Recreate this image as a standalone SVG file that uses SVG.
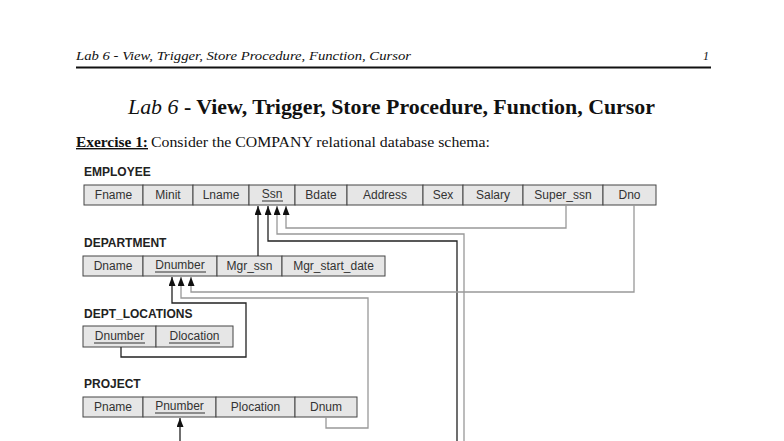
<svg xmlns="http://www.w3.org/2000/svg" width="784" height="441" viewBox="0 0 784 441">
<style>
.hdr{font-family:"Liberation Serif",serif;font-style:italic;font-size:12px;fill:#111}
.ttl{font-family:"Liberation Serif",serif;font-weight:bold;font-size:21px;fill:#111}
.ex{font-family:"Liberation Serif",serif;font-size:14px;fill:#111}
.lbl{font-family:"Liberation Sans",sans-serif;font-weight:bold;font-size:12px;fill:#222}
.cell{fill:#e6e6e6;stroke:#444;stroke-width:1}
.ct{font-family:"Liberation Sans",sans-serif;font-size:12px;fill:#333;text-anchor:middle}
.ul{stroke:#333;stroke-width:1}
.dk{fill:none;stroke:#222;stroke-width:1.3}
.gy{fill:none;stroke:#999;stroke-width:1.3}
</style>
<defs>
<marker id="ah" markerUnits="userSpaceOnUse" markerWidth="10" markerHeight="7" refX="9" refY="3.5" orient="auto">
<path d="M0,0 L9,3.5 L0,7 z" fill="#111"/>
</marker>
</defs>
<rect width="784" height="441" fill="#fff"/>
<text class="hdr" x="76" y="60" textLength="335" lengthAdjust="spacingAndGlyphs">Lab 6 - View, Trigger, Store Procedure, Function, Cursor</text>
<text class="hdr" x="703" y="60">1</text>
<line x1="76" y1="67.5" x2="711" y2="67.5" stroke="#111" stroke-width="2"/>
<text class="ttl" x="128" y="114" textLength="527" lengthAdjust="spacingAndGlyphs"><tspan font-style="italic" font-weight="normal">Lab 6</tspan> - View, Trigger, Store Procedure, Function, Cursor</text>
<text class="ex" x="76" y="147"><tspan font-weight="bold" text-decoration="underline" textLength="72" lengthAdjust="spacingAndGlyphs">Exercise 1:</tspan></text>
<text class="ex" x="151" y="147" textLength="339" lengthAdjust="spacingAndGlyphs">Consider the COMPANY relational database schema:</text>

<g id="employee">
<text class="lbl" x="84" y="176">EMPLOYEE</text>
<rect class="cell" x="84" y="185" width="59" height="20"/><text class="ct" x="113.5" y="199">Fname</text>
<rect class="cell" x="143" y="185" width="50" height="20"/><text class="ct" x="168" y="199">Minit</text>
<rect class="cell" x="193" y="185" width="56" height="20"/><text class="ct" x="221" y="199">Lname</text>
<rect class="cell" x="249" y="185" width="46" height="20"/><text class="ct" x="272" y="198">Ssn</text>
<line class="ul" x1="262" y1="201" x2="283" y2="201"/>
<rect class="cell" x="295" y="185" width="52" height="20"/><text class="ct" x="321" y="199">Bdate</text>
<rect class="cell" x="347" y="185" width="76" height="20"/><text class="ct" x="385" y="199">Address</text>
<rect class="cell" x="423" y="185" width="40" height="20"/><text class="ct" x="443" y="199">Sex</text>
<rect class="cell" x="463" y="185" width="60" height="20"/><text class="ct" x="493" y="199">Salary</text>
<rect class="cell" x="523" y="185" width="80" height="20"/><text class="ct" x="563" y="199">Super_ssn</text>
<rect class="cell" x="603" y="185" width="53" height="20"/><text class="ct" x="629.5" y="199">Dno</text>
</g>

<g id="department">
<text class="lbl" x="84" y="247">DEPARTMENT</text>
<rect class="cell" x="83" y="256" width="60" height="20"/><text class="ct" x="113" y="270">Dname</text>
<rect class="cell" x="143" y="256" width="74" height="20"/><text class="ct" x="180" y="269">Dnumber</text>
<line class="ul" x1="155" y1="272" x2="206" y2="272"/>
<rect class="cell" x="217" y="256" width="65" height="20"/><text class="ct" x="249.5" y="270">Mgr_ssn</text>
<rect class="cell" x="282" y="256" width="103" height="20"/><text class="ct" x="333.5" y="270">Mgr_start_date</text>
</g>

<g id="dept_locations">
<text class="lbl" x="84" y="318">DEPT_LOCATIONS</text>
<rect class="cell" x="83" y="326" width="73" height="21"/><text class="ct" x="119.5" y="340">Dnumber</text>
<line class="ul" x1="94" y1="343" x2="145" y2="343"/>
<rect class="cell" x="156" y="326" width="77" height="21"/><text class="ct" x="194.5" y="340">Dlocation</text>
<line class="ul" x1="169" y1="343" x2="220" y2="343"/>
</g>

<g id="project">
<text class="lbl" x="84" y="388">PROJECT</text>
<rect class="cell" x="83" y="397" width="60" height="20"/><text class="ct" x="113" y="411">Pname</text>
<rect class="cell" x="143" y="397" width="73" height="20"/><text class="ct" x="179.5" y="410">Pnumber</text>
<line class="ul" x1="155" y1="413" x2="205" y2="413"/>
<rect class="cell" x="216" y="397" width="79" height="20"/><text class="ct" x="255.5" y="411">Plocation</text>
<rect class="cell" x="295" y="397" width="62" height="20"/><text class="ct" x="326" y="411">Dnum</text>
</g>

<g id="connectors">
<path class="gy" d="M566 205 V228 H286 V206" marker-end="url(#ah)"/>
<path class="gy" d="M464 441 V234 H277 V206" marker-end="url(#ah)"/>
<path class="dk" d="M457 441 V241 H268 V206" marker-end="url(#ah)"/>
<path class="dk" d="M258 256 V206" marker-end="url(#ah)"/>
<path class="gy" d="M634 205 V292 H191 V277" marker-end="url(#ah)"/>
<path class="gy" d="M326 417 V428 H368 V298 H181 V277" marker-end="url(#ah)"/>
<path class="dk" d="M121 347 V357 H246 V303 H172 V277" marker-end="url(#ah)"/>
<path class="dk" d="M180 441 V418" marker-end="url(#ah)"/>
</g>
</svg>
